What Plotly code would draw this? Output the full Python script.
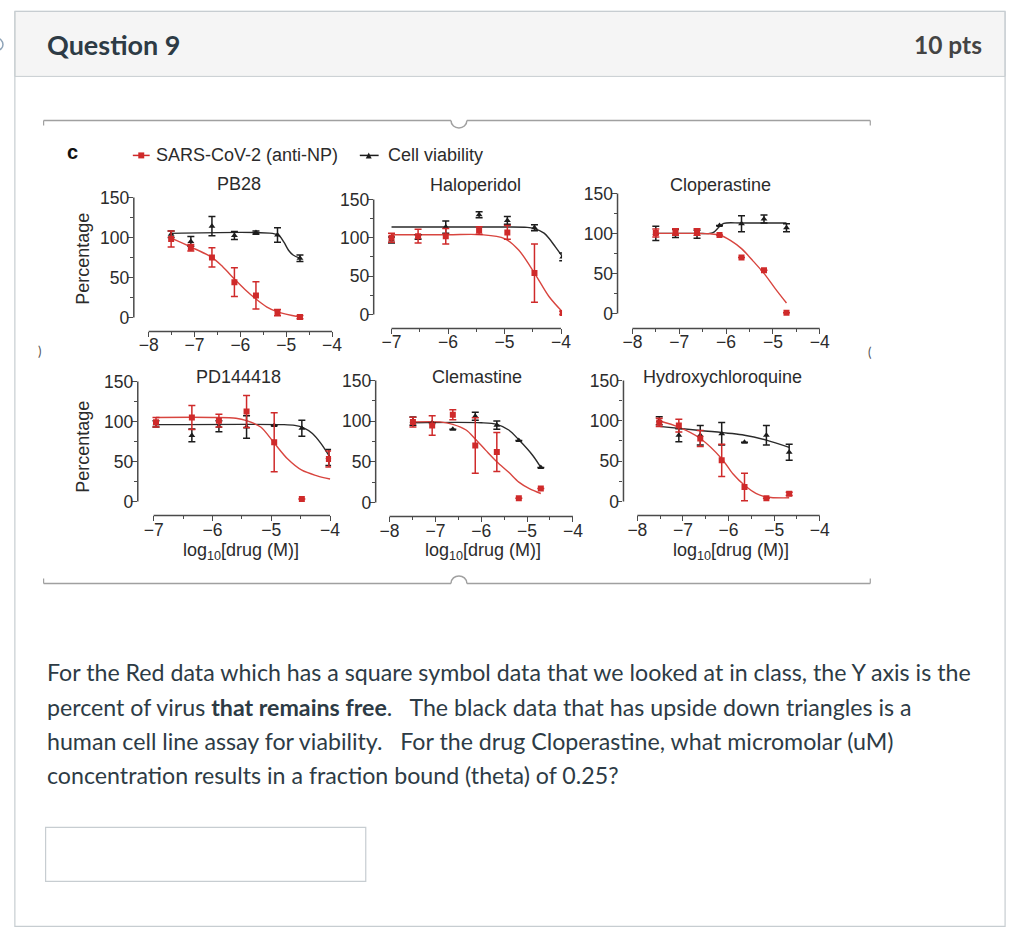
import plotly.graph_objects as go

W, H = 1024, 930

# ---------------- data ----------------
# PB28
pb28_x = [-7.51, -7.08, -6.62, -6.13, -5.66, -5.19, -4.70]
pb28_virus = [98, 87, 75, 44, 27.5, 6, 0.5]
pb28_virus_err = [10, 4, 12, 18, 17, 4, 2]
pb28_cell = [104, 95, 114, 102.5, 106, 103, 74]
pb28_cell_err = [4, 6, 12, 5, 2, 9, 4]
pb28_virus_fit_x = [-7.51, -7.08, -6.62, -6.38, -6.13, -5.9, -5.66, -5.42, -5.19, -4.70]
pb28_virus_fit_y = [99, 88, 75, 63, 48, 35, 23, 13, 7, 0.5]
pb28_cell_fit_x = [-7.51, -5.3, -5.15, -5.05, -4.95, -4.85, -4.70]
pb28_cell_fit_y = [105, 105, 102, 94, 84, 78, 74]

# Haloperidol
halo_x = [-7.0, -6.53, -6.04, -5.45, -4.95, -4.47, -3.97]
halo_virus = [100, 102, 102, 109.5, 107, 54, 2]
halo_virus_err = [6, 9, 10, 5, 9, 38, 2]
halo_cell = [97, 101, 114, 130, 122.6, 113, 75]
halo_cell_err = [4, 3, 8, 4, 5, 4, 5]
halo_virus_fit_x = [-7.0, -6.0, -5.4, -5.0, -4.75, -4.47, -4.21, -3.97]
halo_virus_fit_y = [104, 104, 104, 99, 84, 54, 23, 3]
halo_cell_fit_x = [-7.0, -5.0, -4.6, -4.47, -4.3, -4.21, -4.1, -3.97]
halo_cell_fit_y = [114, 114, 113.5, 112, 106, 99, 88, 75]

# Cloperastine
clop_x = [-7.50, -7.08, -6.62, -6.14, -5.67, -5.19, -4.71]
clop_virus = [100.4, 101.7, 101.7, 98, 70, 54, 1]
clop_virus_err = [5, 4, 4, 0, 0, 0, 0]
clop_cell = [100, 100, 99, 110, 112, 118, 107]
clop_cell_err = [9, 5, 5, 0, 10, 5, 5]
clop_virus_fit_x = [-7.5, -6.6, -6.35, -6.14, -5.9, -5.67, -5.43, -5.19, -4.95, -4.71]
clop_virus_fit_y = [100, 100, 99.5, 98, 91, 81, 66, 50, 31, 13]
clop_cell_fit_x = [-7.5, -6.6, -6.35, -6.25, -6.15, -6.05, -5.67, -4.71]
clop_cell_fit_y = [100, 100, 100, 102, 108, 112.5, 113, 113]

# PD144418
pd_x = [-6.96, -6.35, -5.89, -5.42, -4.95, -4.48, -4.02]
pd_virus = [99, 105, 101, 112.5, 74, 3, 53]
pd_virus_err = [6, 15, 8, 20, 37, 0, 10]
pd_cell = [97, 82.5, 94, 93, 95, 91.6, 55]
pd_cell_err = [4, 8, 7, 14, 0, 10, 10]
pd_virus_fit_x = [-6.96, -6.0, -5.6, -5.42, -5.18, -4.95, -4.72, -4.48, -4.22, -4.0]
pd_virus_fit_y = [105, 105, 104, 101, 93, 73, 53, 39, 32, 28]
pd_cell_fit_x = [-6.96, -4.8, -4.6, -4.45, -4.3, -4.15, -4.0]
pd_cell_fit_y = [96, 96, 95, 92, 85, 72, 55]

# Clemastine
clem_x = [-7.49, -7.07, -6.62, -6.13, -5.66, -5.18, -4.70]
clem_virus = [98.8, 94.7, 107.8, 70, 62, 5, 17]
clem_virus_err = [6, 12, 6, 34, 24, 0, 0]
clem_cell = [100, 98, 90, 106, 95, 76, 43]
clem_cell_err = [5, 0, 0, 5, 5, 0, 0]
clem_virus_fit_x = [-7.49, -6.9, -6.62, -6.33, -6.13, -5.9, -5.66, -5.4, -5.18, -4.95, -4.70]
clem_virus_fit_y = [99, 99, 96, 89, 78, 64, 50, 37, 25, 17, 11]
clem_cell_fit_x = [-7.49, -6.0, -5.66, -5.4, -5.18, -4.88, -4.70]
clem_cell_fit_y = [98, 98, 96, 89, 77, 58, 43]

# Hydroxychloroquine
hcq_x = [-7.52, -7.09, -6.62, -6.15, -5.65, -5.17, -4.67]
hcq_virus = [98, 94, 78, 51, 18, 4, 9.5]
hcq_virus_err = [5, 8, 10, 20, 17, 0, 2]
hcq_cell = [100, 82, 82, 84, 73.5, 82, 61]
hcq_cell_err = [5, 8, 12, 14, 0, 12, 10]
hcq_virus_fit_x = [-7.52, -7.09, -6.62, -6.15, -5.9, -5.65, -5.4, -5.17, -4.67]
hcq_virus_fit_y = [100, 92, 78, 53, 34, 20, 10, 5.5, 4.5]
hcq_cell_fit_x = [-7.52, -6.62, -5.65, -5.17, -4.67]
hcq_cell_fit_y = [93, 88, 82, 76, 67]

titles = ["PB28", "Haloperidol", "Cloperastine", "PD144418", "Clemastine", "Hydroxychloroquine"]
y_ticks = [0, 50, 100, 150]
legend_labels = ["SARS-CoV-2 (anti-NP)", "Cell viability"]
x_label = "log<sub>10</sub>[drug (M)]"
y_label = "Percentage"

question_lines = [
    "For the Red data which has a square symbol data that we looked at in class, the Y axis is the",
    "percent of virus <b>that remains free</b>.   The black data that has upside down triangles is a",
    "human cell line assay for viability.   For the drug Cloperastine, what micromolar (uM)",
    "concentration results in a fraction bound (theta) of 0.25?",
]

datasets = [
    (pb28_x, pb28_virus, pb28_virus_err, pb28_cell, pb28_cell_err,
     pb28_virus_fit_x, pb28_virus_fit_y, pb28_cell_fit_x, pb28_cell_fit_y),
    (halo_x, halo_virus, halo_virus_err, halo_cell, halo_cell_err,
     halo_virus_fit_x, halo_virus_fit_y, halo_cell_fit_x, halo_cell_fit_y),
    (clop_x, clop_virus, clop_virus_err, clop_cell, clop_cell_err,
     clop_virus_fit_x, clop_virus_fit_y, clop_cell_fit_x, clop_cell_fit_y),
    (pd_x, pd_virus, pd_virus_err, pd_cell, pd_cell_err,
     pd_virus_fit_x, pd_virus_fit_y, pd_cell_fit_x, pd_cell_fit_y),
    (clem_x, clem_virus, clem_virus_err, clem_cell, clem_cell_err,
     clem_virus_fit_x, clem_virus_fit_y, clem_cell_fit_x, clem_cell_fit_y),
    (hcq_x, hcq_virus, hcq_virus_err, hcq_cell, hcq_cell_err,
     hcq_virus_fit_x, hcq_virus_fit_y, hcq_cell_fit_x, hcq_cell_fit_y),
]

# ---------------- geometry (pixels, as seen in the reference) ----------------
geom = [
    dict(yax=135, xa=150, xv=-8, xb=335, y0=317, y150=197, xax=331, so=-7),
    dict(yax=377, xa=395, xv=-7, xb=566, y0=314, y150=199, xax=328, so=-7),
    dict(yax=623, xa=638, xv=-8, xb=827, y0=313, y150=193, xax=328, so=-7),
    dict(yax=139, xa=155, xv=-7, xb=333, y0=501, y150=381, xax=515, so=-6),
    dict(yax=379, xa=393, xv=-8, xb=578, y0=502, y150=380, xax=516, so=-6),
    dict(yax=629, xa=643, xv=-8, xb=827, y0=501, y150=380, xax=515, so=-6),
]
title_pos = [(241, 184), (480, 185), (727, 185), (241, 377), (481, 377), (729, 377)]

RED = "#cf2a2a"
RED_FIT = "#d8453f"
BLK = "#1c1c1c"
BLK_FIT = "#2a2a2a"
AX = "#4a4a4a"
TXT = "#2b2b2b"
FIG_FONT = "Liberation Sans, Arial, sans-serif"
PAGE_FONT = "Lato, sans-serif"
FS = 18
TFS = 17.5

# vertical correction measured between the photographed page and plot pixels
Y_OFF, Y_SC = 6.6, 0.9924


def ty(y):
    return (y - Y_OFF) / Y_SC


def px(x):
    return x / W


def py(y):
    return 1 - ty(y) / H


def note(text, x, y, size, color=TXT, family=FIG_FONT, xanchor="center", **kw):
    return dict(text=text, x=px(x), y=py(y), xref="paper", yref="paper", xanchor=xanchor,
                yanchor="middle", showarrow=False, font=dict(size=size, color=color, family=family), **kw)


fig = go.Figure()
layout = dict(
    width=W, height=H, margin=dict(l=0, r=0, t=0, b=0, pad=0), autosize=False,
    paper_bgcolor="white", plot_bgcolor="rgba(0,0,0,0)",
    showlegend=False, font=dict(family=FIG_FONT, color=TXT),
)
shapes = []
annotations = []

for i, (g, d) in enumerate(zip(geom, datasets)):
    n = i + 1
    xs = "" if n == 1 else str(n)
    xref, yref = "x" + xs, "y" + xs
    scale = (g["xb"] - g["xa"]) / (-4 - g["xv"])
    xr_left = g["xv"] - (g["xa"] - g["yax"]) / scale
    y0p, y150p, xaxp = ty(g["y0"]), ty(g["y150"]), ty(g["xax"])
    ysc = (y0p - y150p) / 150.0
    y_bottom = -(xaxp - y0p) / ysc
    y_top = 150 + 3 / ysc
    layout["xaxis" + xs] = dict(
        domain=[px(g["yax"]), px(g["xb"] + 1)], range=[xr_left, -4 + 1 / scale],
        anchor=yref, showgrid=False, zeroline=False, showline=False,
        tickvals=list(range(g["xv"], -3)), ticktext=["\u2212%d" % (-v) for v in range(g["xv"], -3)],
        ticks="outside", ticklen=5, tickwidth=1.3, tickcolor=AX, ticklabelstandoff=g["so"],
        tickfont=dict(size=TFS, color=TXT, family=FIG_FONT),
        minor=dict(dtick=0.5, tick0=0, ticks="outside", ticklen=3, tickwidth=1.1, tickcolor=AX),
        fixedrange=True,
    )
    layout["yaxis" + xs] = dict(
        domain=[1 - xaxp / H, 1 - (y150p - 3) / H], range=[y_bottom, y_top],
        anchor=xref, showgrid=False, zeroline=False, showline=False,
        tickvals=y_ticks, ticks="outside", ticklen=5, tickwidth=1.3, tickcolor=AX, ticklabelstandoff=-5,
        tickfont=dict(size=TFS, color=TXT, family=FIG_FONT),
        minor=dict(dtick=25, tick0=0, ticks="outside", ticklen=3, tickwidth=1.1, tickcolor=AX),
        fixedrange=True,
    )
    shapes.append(dict(type="line", xref=xref + " domain", yref=yref, x0=0, x1=0, y0=0, y1=150,
                       line=dict(color=AX, width=1.5)))
    shapes.append(dict(type="line", xref=xref, yref=yref + " domain", x0=g["xv"], x1=-4, y0=0, y1=0,
                       line=dict(color=AX, width=1.5)))

    x, v, ve, c, ce, vfx, vfy, cfx, cfy = d
    fig.add_trace(go.Scatter(x=cfx, y=cfy, mode="lines", line=dict(color=BLK_FIT, width=1.4, shape="spline", smoothing=0.9),
                             xaxis=xref, yaxis=yref, hoverinfo="skip"))
    fig.add_trace(go.Scatter(x=vfx, y=vfy, mode="lines", line=dict(color=RED_FIT, width=1.4, shape="spline", smoothing=0.9),
                             xaxis=xref, yaxis=yref, hoverinfo="skip"))
    fig.add_trace(go.Scatter(x=x, y=c, mode="markers", name=legend_labels[1],
                             marker=dict(symbol="triangle-up", size=6, color=BLK),
                             error_y=dict(type="data", array=ce, color=BLK, thickness=1.5, width=3.5),
                             xaxis=xref, yaxis=yref))
    fig.add_trace(go.Scatter(x=x, y=v, mode="markers", name=legend_labels[0],
                             marker=dict(symbol="square", size=6, color=RED),
                             error_y=dict(type="data", array=ve, color=RED, thickness=1.5, width=3.5),
                             xaxis=xref, yaxis=yref))

    tx, tyy = title_pos[i]
    annotations.append(note(titles[i], tx, tyy, FS))

# axis labels
for yy in [258, 446]:
    annotations.append(note(y_label, 84, yy, FS, textangle=-90))
for xx in [243, 487, 737]:
    annotations.append(note(x_label, xx, 551, FS))

# legend (drawn)
annotations.append(note("<b>c</b>", 73, 152, 20, color="#111"))
shapes.append(dict(type="line", xref="paper", yref="paper", x0=px(134), x1=px(151), y0=py(155), y1=py(155),
                   line=dict(color=RED, width=1.5)))
shapes.append(dict(type="rect", xref="paper", yref="paper", x0=px(139.5), x1=px(145.5), y0=py(152), y1=py(158),
                   line=dict(width=0), fillcolor=RED))
annotations.append(note(legend_labels[0], 155, 155, FS, xanchor="left"))
shapes.append(dict(type="line", xref="paper", yref="paper", x0=px(363), x1=px(382), y0=py(155), y1=py(155),
                   line=dict(color=BLK, width=1.5)))
shapes.append(dict(type="path", xref="paper", yref="paper",
                   path="M %f %f L %f %f L %f %f Z" % (px(369), py(158), px(375), py(158), px(372), py(152)),
                   line=dict(width=0), fillcolor=BLK))
annotations.append(note(legend_labels[1], 389, 155, FS, xanchor="left"))

# ---------------- page chrome ----------------
BORDER = "#c7cdd1"
shapes.insert(0, dict(type="rect", xref="paper", yref="paper", x0=px(15), x1=px(1014), y0=py(11), y1=py(76),
                      line=dict(color=BORDER, width=1), fillcolor="#f5f5f5", layer="below"))
shapes.append(dict(type="rect", xref="paper", yref="paper", x0=px(15), x1=px(1014), y0=py(11), y1=py(926),
                   line=dict(color=BORDER, width=1.2)))
FR = "#a0a0a0"
for yy, sgn in [(120, 1), (583, -1)]:
    shapes.append(dict(type="line", xref="paper", yref="paper", x0=px(44), x1=px(455), y0=py(yy), y1=py(yy),
                       line=dict(color=FR, width=1.5)))
    shapes.append(dict(type="line", xref="paper", yref="paper", x0=px(471), x1=px(878), y0=py(yy), y1=py(yy),
                       line=dict(color=FR, width=1.5)))
    shapes.append(dict(type="path", xref="paper", yref="paper",
                       path="M %f %f C %f %f %f %f %f %f" % (px(455), py(yy), px(455), py(yy + sgn * 10),
                                                             px(471), py(yy + sgn * 10), px(471), py(yy)),
                       line=dict(color=FR, width=1.5)))
    shapes.append(dict(type="line", xref="paper", yref="paper", x0=px(44), x1=px(44), y0=py(yy), y1=py(yy + sgn * 5),
                       line=dict(color=FR, width=1.2)))
    shapes.append(dict(type="line", xref="paper", yref="paper", x0=px(878), x1=px(878), y0=py(yy), y1=py(yy + sgn * 5),
                       line=dict(color=FR, width=1.2)))
annotations.append(note(")", 40, 351, 13, color="#555", family=PAGE_FONT))
annotations.append(note("(", 878, 352, 13, color="#555", family=PAGE_FONT))
shapes.append(dict(type="circle", xref="paper", yref="paper", x0=px(-9), x1=px(3), y0=py(38), y1=py(50),
                   line=dict(color="#8fa4b8", width=1.5)))

annotations.append(note("<b>Question 9</b>", 45, 44, 27, color="#2d3b45", family=PAGE_FONT, xanchor="left"))
annotations.append(note("<b>10 pts</b>", 993, 44, 24.5, color="#444", family=PAGE_FONT, xanchor="right"))
for k, line in enumerate(question_lines):
    annotations.append(note(line, 45, 672 + 34.2 * k, 23.2, color="#2d3b45", family=PAGE_FONT, xanchor="left"))
shapes.append(dict(type="rect", xref="paper", yref="paper", x0=px(46), x1=px(369), y0=py(827), y1=py(881),
                   line=dict(color=BORDER, width=1.2), fillcolor="white"))

layout["shapes"] = shapes
layout["annotations"] = annotations
fig.update_layout(**layout)

post = (
    "document.documentElement.style.margin='0';document.body.style.margin='0';"
    "document.documentElement.style.overflow='hidden';document.body.style.overflow='hidden';"
)
fig.write_html("out.html", config={"displayModeBar": False}, post_script=post)
